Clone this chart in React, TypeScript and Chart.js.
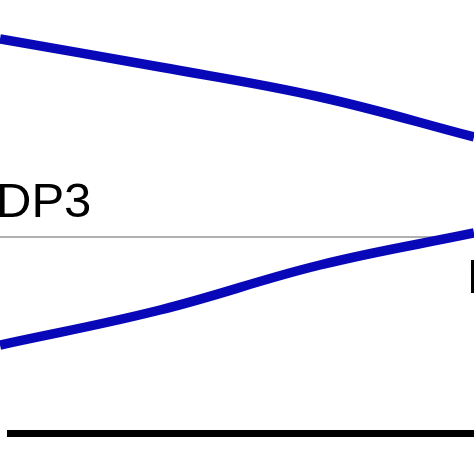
import React, { useEffect, useRef } from 'react';
import { Chart, registerables } from 'chart.js';

Chart.register(...registerables);

// Positions along the strip and the two curve values (y measured upward)
const xPositions = [0, 160, 320, 474];
const upperCurve = [435, 407, 377, 337];
const lowerCurve = [129, 164, 209, 241];

// Thin grey reference level and the black baseline bar
const referenceX = [0, 474];
const referenceLevel = [237, 237];
const baselineX = [7, 474];
const baselineLevel = [40.5, 40.5];

// Text labels
const labelTexts = ['DP3', 'DP2'];
const labelX = [-4, 467];
const labelY = [257, 181];

const toPoints = (xs: number[], ys: number[]) => xs.map((x, i) => ({ x, y: ys[i] }));

const labelPlugin = {
    id: 'textLabels',
    afterDatasetsDraw(chart: Chart) {
        const { ctx, scales } = chart;
        ctx.save();
        ctx.font = '49px "Liberation Sans", Arial, sans-serif';
        ctx.fillStyle = '#000';
        ctx.textAlign = 'left';
        ctx.textBaseline = 'alphabetic';
        labelTexts.forEach((text, i) => {
            ctx.fillText(text, scales.x.getPixelForValue(labelX[i]), scales.y.getPixelForValue(labelY[i]));
        });
        ctx.restore();
    },
};

const App: React.FC = () => {
    const chartRef = useRef<HTMLCanvasElement>(null);

    useEffect(() => {
        if (!chartRef.current) return;
        const ctx = chartRef.current.getContext('2d');
        if (!ctx) return;

        const blue = 'rgb(8, 8, 184)';

        const chart = new Chart(ctx, {
            type: 'line',
            data: {
                datasets: [
                    {
                        data: toPoints(xPositions, upperCurve),
                        borderColor: blue,
                        borderWidth: 9.5,
                        tension: 0.4,
                        pointRadius: 0,
                    },
                    {
                        data: toPoints(xPositions, lowerCurve),
                        borderColor: blue,
                        borderWidth: 9.5,
                        tension: 0.4,
                        pointRadius: 0,
                    },
                    {
                        data: toPoints(referenceX, referenceLevel),
                        borderColor: '#b0b0b0',
                        borderWidth: 2,
                        pointRadius: 0,
                    },
                    {
                        data: toPoints(baselineX, baselineLevel),
                        borderColor: '#000',
                        borderWidth: 7,
                        borderCapStyle: 'butt',
                        pointRadius: 0,
                    },
                ],
            },
            options: {
                responsive: false,
                animation: false,
                layout: { padding: 0 },
                plugins: {
                    legend: { display: false },
                    tooltip: { enabled: false },
                },
                scales: {
                    x: { type: 'linear', min: 0, max: 474, display: false },
                    y: { type: 'linear', min: 0, max: 474, display: false },
                },
            },
            plugins: [labelPlugin],
        });

        return () => {
            chart.destroy();
        };
    }, []);

    return (
        <div style={{ position: 'fixed', top: 0, left: 0, width: 474, height: 474, background: '#fff' }}>
            <canvas ref={chartRef} width={474} height={474} />
        </div>
    );
};

export default App;
